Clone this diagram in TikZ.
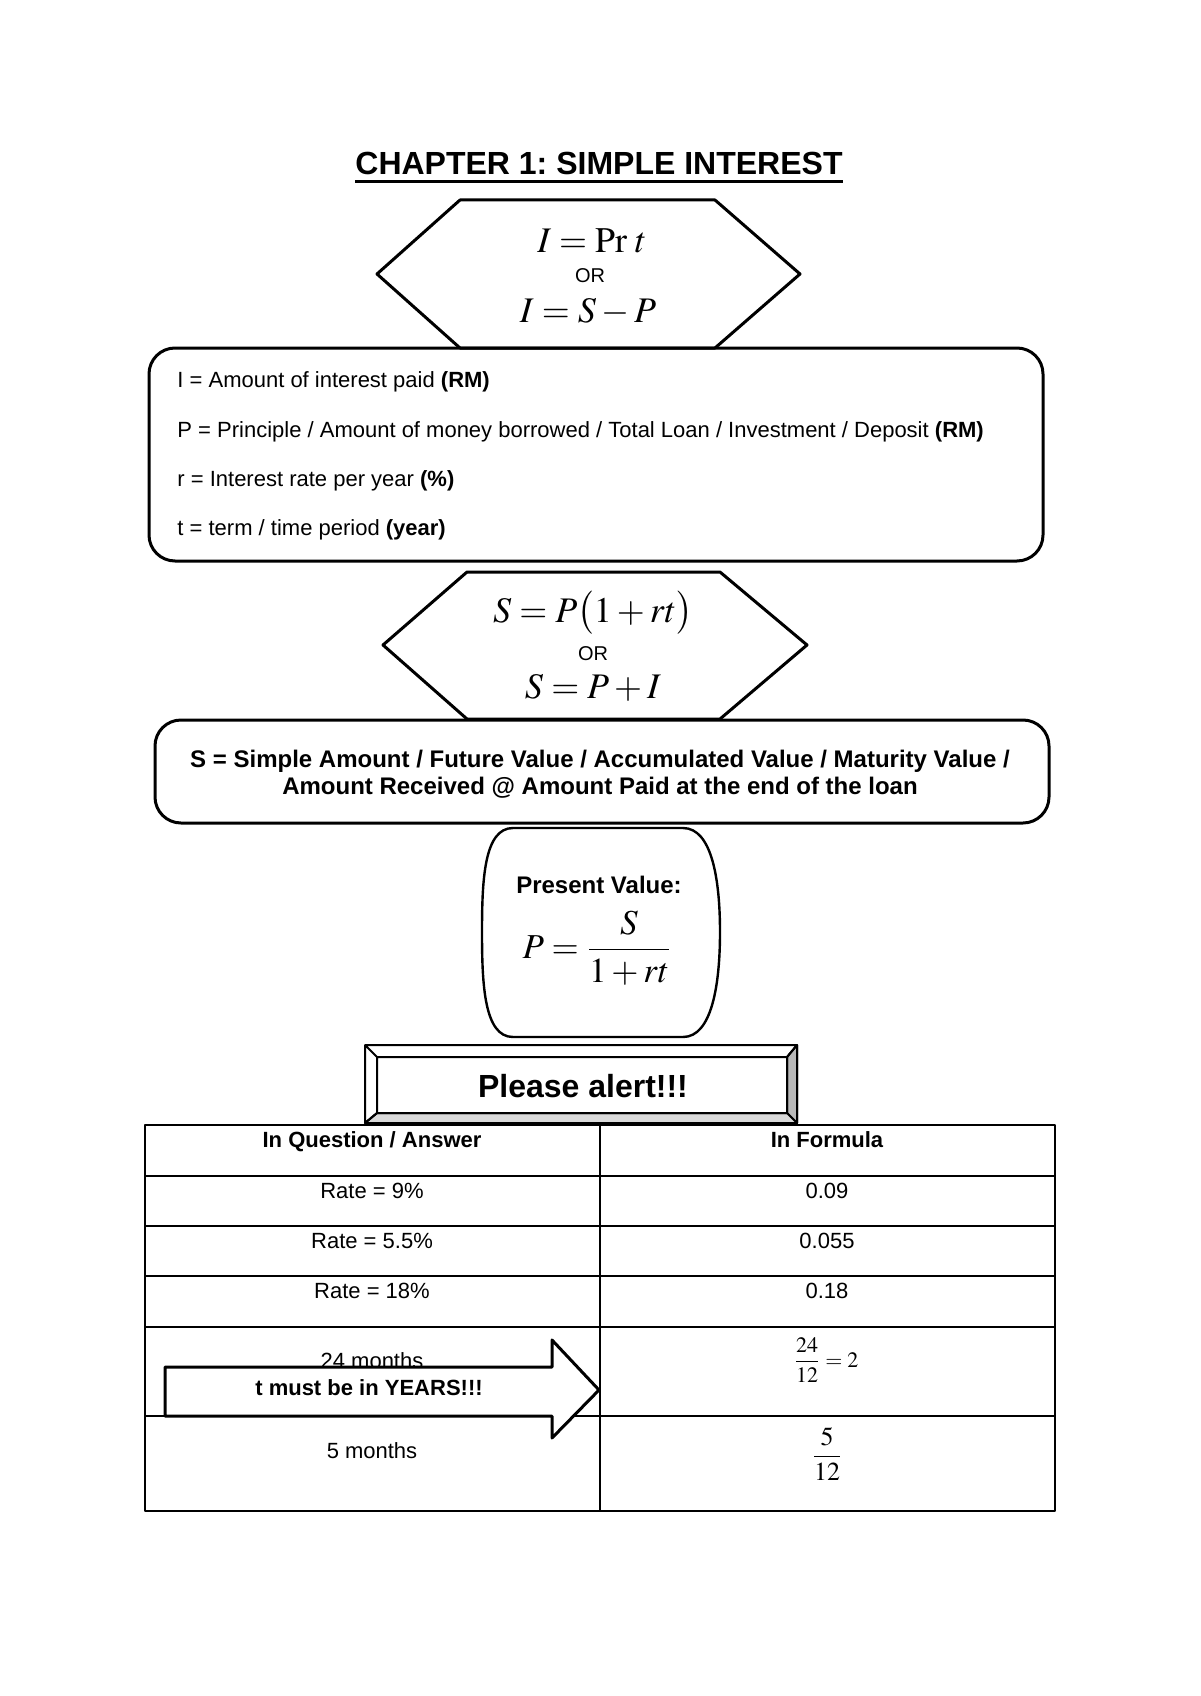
\documentclass[tikz,border=0pt]{standalone}
\usepackage{amsmath}
\usepackage{mathptmx}
\usepackage[no-math]{fontspec}
\setmainfont{Liberation Sans}
\usepackage{tikz}
\frenchspacing

\begin{document}
\begin{tikzpicture}[x=0.5pt, y=-0.5pt, line join=round,
    every node/.style={inner sep=0pt},
    frame/.style={line width=1.5pt, rounded corners=13pt},
    hexa/.style={line width=1.5pt, fill=white},
    norm/.style={font=\fontsize{11}{13}\selectfont},
    bnorm/.style={font=\fontsize{11}{13}\selectfont\bfseries},
    grid/.style={line width=1pt}]
  \useasboundingbox (0,0) rectangle (1200,1696);
  \node[anchor=base, font=\fontsize{16}{19}\selectfont\bfseries] (t) at (599,175) {CHAPTER 1: SIMPLE INTEREST};
  \draw[line width=1.5pt] ([yshift=-3.5pt]t.base west) -- ([yshift=-3.5pt]t.base east);

  \draw[hexa] (460,200) -- (715,200) -- (800,274) -- (715,348) -- (460,348) -- (377,274) -- cycle;
  \node[anchor=base, font=\fontsize{18}{20}\selectfont] (a1) at (592,252) {$I=\mathrm{Pr}\;t$};
  \node[anchor=base, font=\fontsize{10}{12}\selectfont] (a2) at (590,283) {OR};
  \node[anchor=base, font=\fontsize{18}{20}\selectfont] (a3) at (588,322) {$I=S-P$};

  \draw[frame] (149,348) rectangle (1043,561);
  \node[norm, anchor=base west] (d1) at (177,387) {I = Amount of interest paid \textbf{(RM)}};
  \node[norm, anchor=base west] (d2) at (177,437) {P = Principle / Amount of money borrowed / Total Loan / Investment / Deposit \textbf{(RM)}};
  \node[norm, anchor=base west] (d3) at (177,486) {r = Interest rate per year \textbf{(\%)}};
  \node[norm, anchor=base west] (d4) at (177,535) {t = term / time period \textbf{(year)}};

  \draw[hexa] (467,572) -- (720,572) -- (807,645) -- (720,719) -- (467,719) -- (383,645) -- cycle;
  \node[anchor=base, font=\fontsize{18}{20}\selectfont] (b1) at (593,622) {$S=P\bigl(1+rt\bigr)$};
  \node[anchor=base, font=\fontsize{10}{12}\selectfont] (b2) at (593,660) {OR};
  \node[anchor=base, font=\fontsize{18}{20}\selectfont] (b3) at (593,698) {$S=P+I$};

  \draw[frame] (155,720) rectangle (1049,823);
  \node[align=center, font=\fontsize{12}{13.5}\selectfont\bfseries] (c) at (600,774) {S = Simple Amount / Future Value / Accumulated Value / Maturity Value /\\ Amount Received @ Amount Paid at the end of the loan};

  \draw[line width=1.2pt] (513,828) -- (683,828) .. controls (712,828) and (720,880) .. (720,932)
    .. controls (720,984) and (712,1037) .. (683,1037) -- (513,1037)
    .. controls (484,1037) and (482,984) .. (482,932) .. controls (482,880) and (484,828) .. (513,828) -- cycle;
  \node[anchor=base, font=\fontsize{12}{14}\selectfont\bfseries] (p1) at (599,893) {Present Value:};
  \node[font=\fontsize{17.5}{20}\selectfont] (p2) at (597,948) {$P=\dfrac{S}{1+rt}$};

  \filldraw[fill=gray!55, line width=1pt] (797,1045) -- (797,1123) -- (787,1113) -- (787,1057) -- cycle;
  \filldraw[fill=gray!30, line width=1pt] (365,1123) -- (797,1123) -- (787,1113) -- (377,1113) -- cycle;
  \draw[line width=1pt] (365,1045) rectangle (797,1123) (377,1057) rectangle (787,1113)
    (365,1045) -- (377,1057) (797,1045) -- (787,1057) (365,1123) -- (377,1113);
  \node[anchor=base, font=\fontsize{16}{19}\selectfont\bfseries] (w) at (583,1097) {Please alert!!!};

  \draw[grid] (145,1125) rectangle (1055,1511) (600,1125) -- (600,1511)
    (145,1176) -- (1055,1176) (145,1226) -- (1055,1226);
  \draw[grid, line width=1.4pt] (145,1276) -- (1055,1276) (145,1327) -- (1055,1327) (145,1416) -- (1055,1416);
  \node[bnorm, anchor=base] (q0) at (372,1147) {In Question / Answer};
  \node[bnorm, anchor=base] (f0) at (827,1147) {In Formula};
  \node[norm, anchor=base] (q1) at (372,1198) {Rate = 9\%};
  \node[norm, anchor=base] (f1) at (827,1198) {0.09};
  \node[norm, anchor=base] (q2) at (372,1248) {Rate = 5.5\%};
  \node[norm, anchor=base] (f2) at (827,1248) {0.055};
  \node[norm, anchor=base] (q3) at (372,1298) {Rate = 18\%};
  \node[norm, anchor=base] (f3) at (827,1298) {0.18};
  \node[norm, anchor=base] (q4) at (372,1368) {24 months};
  \node[font=\fontsize{11}{13}\selectfont] (f4) at (826,1360) {$\dfrac{24}{12}=2$};
  \node[norm, anchor=base] (q5) at (372,1458) {5 months};
  \node[font=\fontsize{13}{15}\selectfont] (f5) at (827,1454) {$\dfrac{5}{12}$};

  \draw[line width=1.5pt, fill=white] (165,1367) -- (552,1367) -- (552,1340) -- (599,1390) -- (552,1438) -- (552,1416) -- (165,1416) -- cycle;
  \node[bnorm, anchor=base] (m) at (369,1395) {t must be in YEARS!!!};
\end{tikzpicture}
\end{document}
